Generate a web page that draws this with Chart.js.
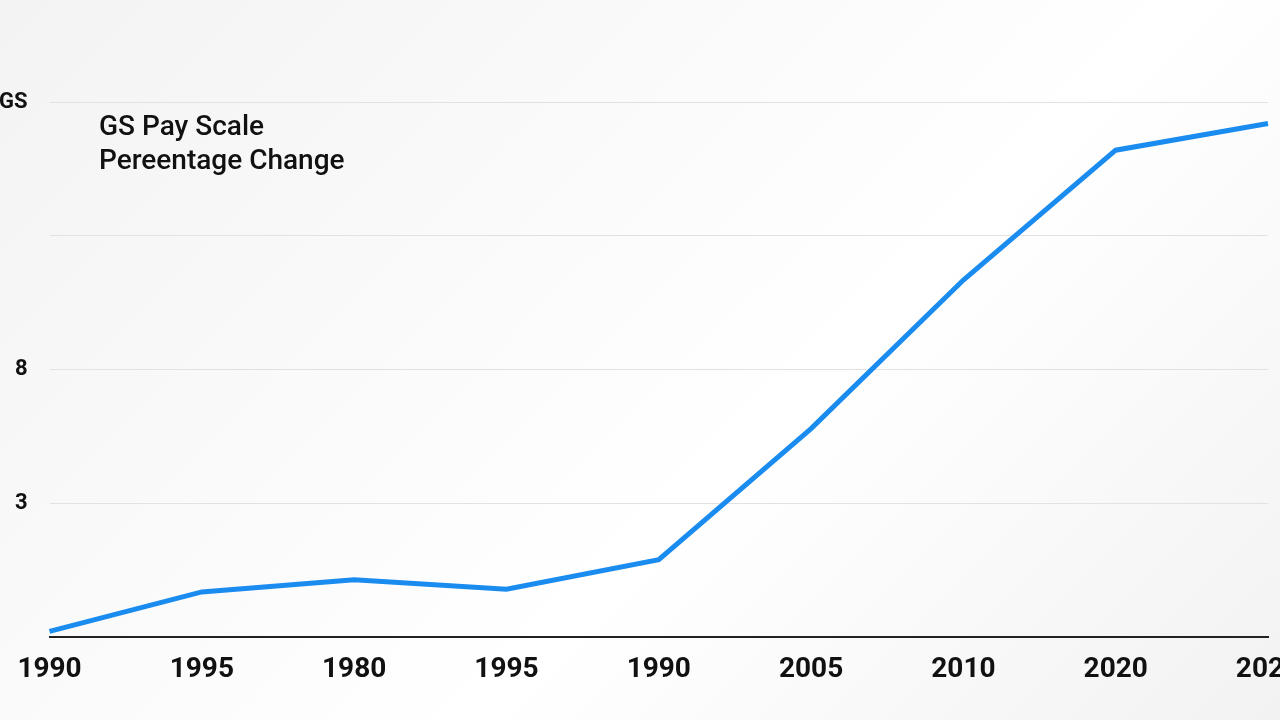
<!DOCTYPE html>
<html><head><meta charset="utf-8">
<script src="https://cdn.jsdelivr.net/npm/chart.js@4/dist/chart.umd.min.js"></script>
<style>
html,body{margin:0;width:1280px;height:720px;overflow:hidden;background:linear-gradient(135deg,#f3f3f3 0%,#fbfbfb 40%,#ffffff 60%,#f2f2f2 100%);font-family:Roboto,"Open Sans",sans-serif;}
#wrap{position:absolute;left:-23px;top:0;width:1340px;height:720px;}
#title{position:absolute;left:99px;top:109px;font-size:28px;line-height:34px;color:#111;font-family:Roboto,sans-serif;font-weight:500;}
</style></head><body>
<div id="wrap"><canvas id="c"></canvas></div>
<div id="title">GS Pay Scale<br>Pereentage Change</div>
<script>
const categories=["1990","1995","1980","1995","1990","2005","2010","2020","2025"];
const values=[0.045,0.34,0.43,0.36,0.58,1.56,2.67,3.64,3.84];
const yTickLabels=["","3","8","","GS"];
new Chart(document.getElementById('c'),{
type:'line',
data:{labels:categories,datasets:[{data:values,borderColor:'#1a8cf0',borderWidth:5,pointRadius:0,tension:0,fill:false}]},
options:{responsive:true,maintainAspectRatio:false,animation:false,
plugins:{legend:{display:false},tooltip:{enabled:false}},
layout:{padding:{top:102,right:49,bottom:25,left:0}},
scales:{
x:{offset:false,grid:{display:false},border:{color:'#222',width:2},
 ticks:{color:'#111',font:{size:28,weight:'bold',family:'Roboto'},padding:8,maxRotation:0,autoSkip:false}},
y:{min:0,max:4,ticks:{stepSize:1,color:'#111',font:{size:22,weight:'bold',family:'Roboto'},padding:22,callback:(v)=>yTickLabels[v]},
 grid:{color:'#e2e2e2',drawTicks:false},border:{display:false}}
}}});
</script></body></html>
